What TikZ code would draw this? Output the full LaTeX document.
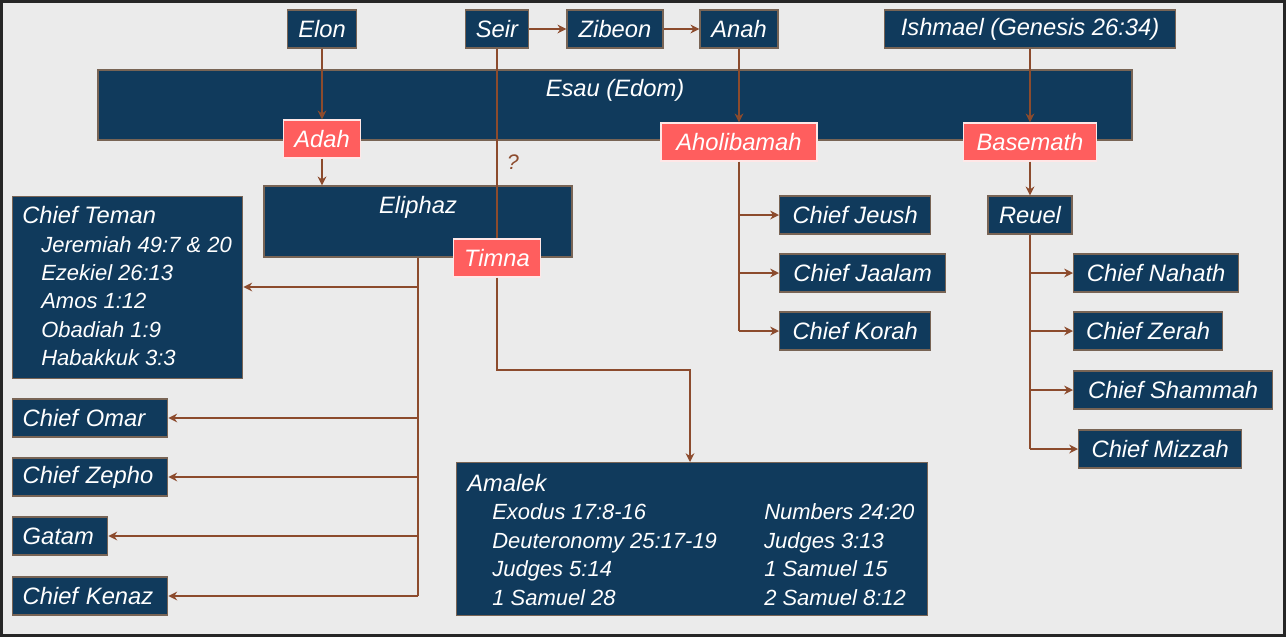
\documentclass[tikz,border=0pt]{standalone}
\usepackage{fontspec}
\setmainfont{Liberation Sans}
\usetikzlibrary{arrows.meta}
\definecolor{navy}{RGB}{16,58,92}
\definecolor{edge}{RGB}{120,100,85}
\definecolor{wife}{RGB}{255,94,94}
\definecolor{link}{RGB}{140,75,45}
\definecolor{paper}{RGB}{235,235,235}
\tikzset{
  box/.style={fill=navy,draw=edge,line width=0.8pt,text=white,inner sep=0pt,
    minimum height=0.76cm,font=\itshape\fontsize{13.5}{16}\selectfont},
  wifebox/.style={box,fill=wife,draw=white!85!wife},
  arr/.style={draw=link,line width=1.1pt,-{Stealth[length=5pt,width=5pt]}},
  ln/.style={draw=link,line width=1.1pt}
}
\begin{document}
\begin{tikzpicture}[x=0.02cm,y=-0.02cm]
  % Hintergrund
  \fill[black!85] (0,0) rectangle (1286,637);
  \fill[paper] (3,3) rectangle (1283,634);
  %%%% obere Reihe
  \node[box,minimum width=1.38cm] (elon) at (322,29) {Elon};
  \node[box,minimum width=1.26cm] (seir) at (497,29) {Seir};
  \node[box,minimum width=1.92cm] (zibeon) at (615,29) {Zibeon};
  \node[box,minimum width=1.56cm] (anah) at (739,29) {Anah};
  \node[box,minimum width=5.82cm] (ishmael) at (1030,29) {Ishmael (Genesis 26:34)};
  %%%% Esau
  \node[box,minimum width=20.68cm,minimum height=1.4cm] (esau) at (615,105) {};
  \node[text=white,font=\itshape\fontsize{13.5}{16}\selectfont] (esaulbl) at (615,90) {Esau (Edom)};
  \draw[arr] (seir) -- (zibeon);
  \draw[arr] (zibeon) -- (anah);
  % Frauen
  \node[wifebox,minimum width=1.54cm] (adah) at (322,139) {Adah};
  \node[wifebox,minimum width=3.12cm] (aholi) at (739,142) {Aholibamah};
  \node[wifebox,minimum width=2.66cm] (basemath) at (1030,142) {Basemath};
  \draw[arr] (elon) -- (adah);
  \draw[arr] (anah) -- (aholi);
  \draw[arr] (ishmael) -- (basemath);
  %%%% Eliphaz
  \node[box,minimum width=6.16cm,minimum height=1.42cm] (eliphaz) at (418,221.5) {};
  \node[text=white,font=\itshape\fontsize{13.5}{16}\selectfont] (eliphazlbl) at (418,207) {Eliphaz};
  \node[wifebox,minimum width=1.74cm] (timna) at (497,258) {Timna};
  \draw[arr] (adah) -- (eliphaz.north -| adah);
  \draw[ln] (seir) -- (timna);
  \node[text=link,font=\itshape\fontsize{12}{13}\selectfont] (q) at (513,162) {?};
  %%%% Soehne des Eliphaz
  \node[box,anchor=north west,minimum width=4.6cm,minimum height=3.64cm] (teman) at (12,196) {};
  \node[anchor=north west,text=white,align=left,inner sep=0pt,
    font=\itshape\fontsize{13.5}{16.2}\selectfont] (temantxt) at (22,206)
    {Chief Teman\\\hspace{0.38cm}{\fontsize{12.5}{16.2}\selectfont Jeremiah 49:7 \& 20}\\
     \hspace{0.38cm}{\fontsize{12.5}{16.2}\selectfont Ezekiel 26:13}\\
     \hspace{0.38cm}{\fontsize{12.5}{16.2}\selectfont Amos 1:12}\\
     \hspace{0.38cm}{\fontsize{12.5}{16.2}\selectfont Obadiah 1:9}\\
     \hspace{0.38cm}{\fontsize{12.5}{16.2}\selectfont Habakkuk 3:3}};
  \node[box,anchor=west,minimum width=3.1cm,text width=2.7cm,align=left] (omar) at (12,418) {Chief Omar};
  \node[box,anchor=west,minimum width=3.1cm,text width=2.7cm,align=left] (zepho) at (12,477) {Chief Zepho};
  \node[box,anchor=west,minimum width=1.9cm,text width=1.5cm,align=left] (gatam) at (12,536) {Gatam};
  \node[box,anchor=west,minimum width=3.1cm,text width=2.7cm,align=left] (kenaz) at (12,596) {Chief Kenaz};
  \coordinate (ejoin) at (418,596);
  \draw[ln] (eliphaz.south -| ejoin) -- (ejoin);
  \draw[arr] (418,287) -- (teman.east |- 0,287);
  \foreach \s in {omar,zepho,gatam,kenaz} {
    \draw[arr] (ejoin |- \s) -- (\s.east);
  }
  %%%% Amalek
  \node[box,anchor=north west,minimum width=9.42cm,minimum height=3.06cm] (amalek) at (456,462) {};
  \node[anchor=north west,text=white,inner sep=0pt,font=\itshape\fontsize{12.5}{16.2}\selectfont] (amalektxt) at (467,471)
    {\begin{tabular}{@{}p{5.94cm}@{}l@{}}
      {\fontsize{13.5}{16.2}\selectfont Amalek} & \\
      \hspace{0.5cm}Exodus 17:8-16 & Numbers 24:20\\
      \hspace{0.5cm}Deuteronomy 25:17-19 & Judges 3:13\\
      \hspace{0.5cm}Judges 5:14 & 1 Samuel 15\\
      \hspace{0.5cm}1 Samuel 28 & 2 Samuel 8:12
    \end{tabular}};
  \draw[arr] (timna) -- (497,370) -- (690,370) -- (amalek.north -| 690,0);
  %%%% Soehne der Aholibamah
  \node[box,anchor=west,minimum width=3.02cm] (jeush) at (779,215) {Chief Jeush};
  \node[box,anchor=west,minimum width=3.32cm] (jaalam) at (779,273) {Chief Jaalam};
  \node[box,anchor=west,minimum width=3.02cm] (korah) at (779,331) {Chief Korah};
  \draw[ln] (aholi) -- (739,331);
  \foreach \s in {jeush,jaalam,korah} {
    \draw[arr] (aholi.center |- \s) -- (\s.west);
  }
  %%%% Reuel
  \node[box,minimum width=1.68cm] (reuel) at (1030,215) {Reuel};
  \draw[arr] (basemath) -- (reuel);
  \node[box,anchor=west,minimum width=3.3cm] (nahath) at (1073,273) {Chief Nahath};
  \node[box,anchor=west,minimum width=2.98cm] (zerah) at (1073,331) {Chief Zerah};
  \node[box,anchor=west,minimum width=3.98cm] (shammah) at (1073,390) {Chief Shammah};
  \node[box,anchor=west,minimum width=3.26cm] (mizzah) at (1078,449) {Chief Mizzah};
  \draw[ln] (reuel) -- (1030,449);
  \foreach \s in {nahath,zerah,shammah,mizzah} {
    \draw[arr] (reuel.center |- \s) -- (\s.west);
  }
\end{tikzpicture}
\end{document}
